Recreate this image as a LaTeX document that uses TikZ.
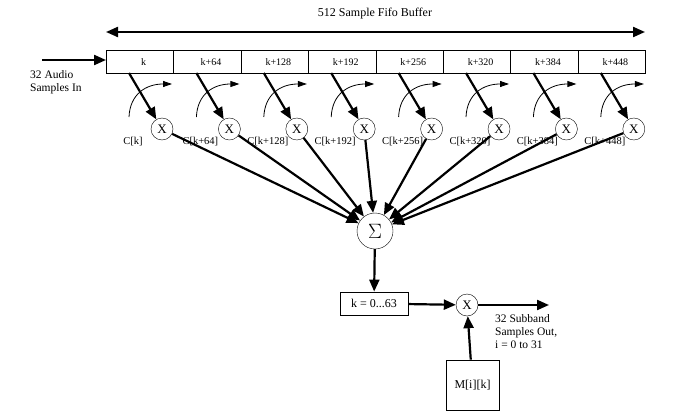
\documentclass[tikz,border=0pt]{standalone}
\usepackage{fontspec}
\setmainfont{Liberation Serif}
\usetikzlibrary{arrows.meta}
\begin{document}
\begin{tikzpicture}[x=1pt,y=-1pt,
  cell/.style={draw,thick,minimum width=67.4pt,minimum height=23pt,inner sep=0pt,anchor=north west,font=\fontsize{10}{12}\selectfont},
  mul/.style={draw,circle,minimum size=22pt,inner sep=0pt,font=\fontsize{13}{13}\selectfont},
  lab/.style={font=\fontsize{10.5}{12}\selectfont},
  big/.style={line width=2.2pt,-{Triangle[length=12pt,width=10pt]}},
  txt/.style={font=\fontsize{11.5}{13}\selectfont,align=left}]
\useasboundingbox (0,0) rectangle (677,412);
\node[font=\fontsize{12}{14}\selectfont] (title) at (375,14) {512 Sample Fifo Buffer};
\coordinate (tl) at (106,32); \coordinate (tr) at (645,32);
\draw[line width=2.2pt,{Triangle[length=12pt,width=10pt]}-{Triangle[length=12pt,width=10pt]}] (tl) -- (tr);
\node[mul,minimum size=36pt,font=\fontsize{20}{20}\selectfont] (sig) at (375,231) {$\Sigma$};
\foreach \i/\t/\c in {0/k/C[k],1/k+64/C[k+64],2/k+128/C[k+128],3/k+192/C[k+192],4/k+256/C[k+256],5/k+320/C[k+320],6/k+384/C[k+384],7/k+448/C[k+448]}{
  \pgfmathsetmacro\xs{106+67.4*\i}
  \node[cell] (c\i) at (\xs,50) {\hspace*{7pt}\t\hfill};
  \node[mul] (m\i) at (\xs+56,129) {X};
  \node[lab] (l\i) at (\xs+27,142) {\c};
  \coordinate (a\i) at (\xs+23,73);
  \draw[big] (a\i) -- (m\i);
  \coordinate (s\i) at (\xs+23,117);
  \coordinate (e\i) at (\xs+66,84);
  \draw[thick,-{Triangle[length=9pt,width=6pt]}] (s\i) .. controls (\xs+24,94) and (\xs+40,84) .. (e\i);
  \draw[big] (m\i) -- (sig);
}
\coordinate (in) at (42,60);
\draw[big] (in) -- (106,60);
\node[txt,anchor=north west,inner sep=0pt] (inl) at (30,70) {32 Audio\\Samples In};
\node[draw,thick,minimum width=68pt,minimum height=23pt,inner sep=0pt,font=\fontsize{12}{14}\selectfont] (kb) at (374,303.5) {k = 0...63};
\draw[big] (sig) -- (kb);
\node[mul] (mx) at (467,305) {X};
\draw[big] (kb) -- (mx);
\coordinate (out) at (549,305);
\draw[big] (mx) -- (out);
\node[txt,anchor=north west,inner sep=0pt] (outl) at (495,314) {32 Subband\\Samples Out,\\i = 0 to 31};
\node[draw,thick,minimum width=53pt,minimum height=50pt,inner sep=0pt,font=\fontsize{12}{14}\selectfont] (mb) at (472.5,385) {M[i][k]};
\draw[big] (mb) -- (mx);
\end{tikzpicture}
\end{document}
